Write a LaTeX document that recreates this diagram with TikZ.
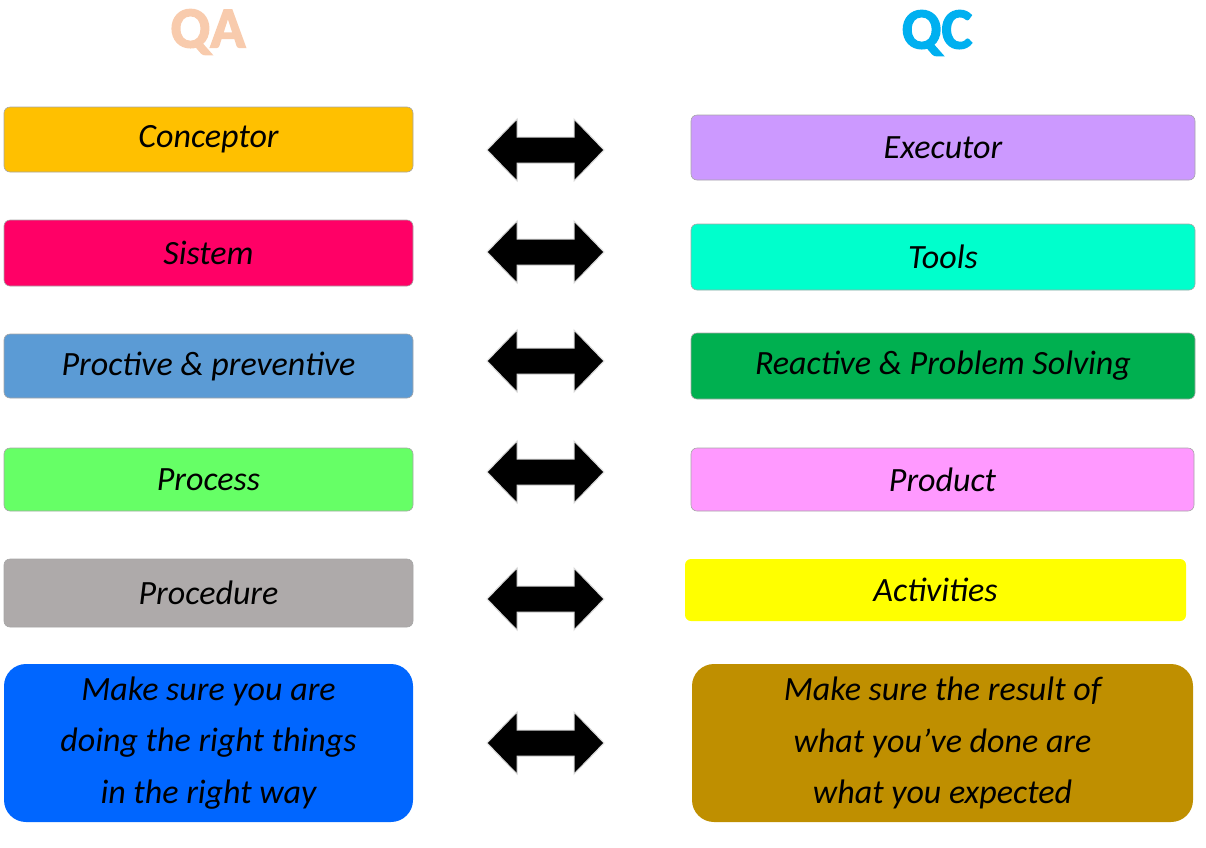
\documentclass[tikz,border=0pt]{standalone}
\usepackage{fontspec}
\setmainfont{Carlito}
\usetikzlibrary{positioning}
\definecolor{c1}{HTML}{FFC000}\definecolor{c2}{HTML}{FF0066}\definecolor{c3}{HTML}{5B9BD5}
\definecolor{c4}{HTML}{66FF66}\definecolor{c5}{HTML}{AEAAAA}\definecolor{c6}{HTML}{0066FF}
\definecolor{d1}{HTML}{CC99FF}\definecolor{d2}{HTML}{00FFCC}\definecolor{d3}{HTML}{00B050}
\definecolor{d4}{HTML}{FF99FF}\definecolor{d5}{HTML}{FFFF00}\definecolor{d6}{HTML}{BF8F00}
\definecolor{qa}{HTML}{F8CBAD}\definecolor{qc}{HTML}{00B0F0}
\tikzset{
 box/.style={rounded corners=6pt,draw=black!35,line width=0.6pt,font=\fontsize{34}{40}\selectfont\itshape,align=center,inner sep=0pt},
 bigbox/.style={box,rounded corners=22pt,draw=none},
 dbl/.style={fill=black,draw=black!15,line width=1pt}
}
\newcommand{\boxat}[6]{\node[box,fill=#5,minimum width=#3-#1,minimum height=#4-#2] (#6) at ({(#1+#3)/2},{(#2+#4)/2}) {};}
\newcommand{\darr}[2]{\node[inner sep=0pt,minimum size=0pt] (#2) at (545,#1) {};
 \draw[dbl] ([xshift=-58pt]#2.center) -- ++(30,-31) -- ++(0,18) -- ++(57,0) -- ++(0,-18) -- ++(30,31) -- ++(-30,31) -- ++(0,-18) -- ++(-57,0) -- ++(0,18) -- cycle;}
\begin{document}
\begin{tikzpicture}[x=1pt,y=-1pt]
\useasboundingbox (0,0) rectangle (1206,847);
\node[font=\fontsize{58}{60}\selectfont\bfseries] (qa) at (208,32) {\special{pdf:literal direct 2 Tr 1.5 w 0.93 0.49 0.19 RG}\color{qa}QA\special{pdf:literal direct 0 Tr}};
\node[font=\fontsize{58}{60}\selectfont\bfseries] (qc) at (937,33) {\special{pdf:literal direct 2 Tr 1.5 w 0.1 0.45 0.7 RG}\color{qc}QC\special{pdf:literal direct 0 Tr}};
\boxat{4}{107}{413}{172}{c1}{l1}\node[font=\fontsize{34}{40}\selectfont\itshape] at (l1) {Conceptor};
\boxat{4}{220}{413}{286}{c2}{l2}\node[font=\fontsize{34}{40}\selectfont\itshape] at (l2) {Sistem};
\boxat{4}{334}{413}{398}{c3}{l3}\node[font=\fontsize{34}{40}\selectfont\itshape] at (l3) {Proctive \& preventive};
\boxat{4}{448}{413}{511}{c4}{l4}\node[font=\fontsize{34}{40}\selectfont\itshape] at (l4) {Process};
\boxat{4}{559}{413}{627}{c5}{l5}\node[font=\fontsize{34}{40}\selectfont\itshape] at (l5) {Procedure};
\node[bigbox,fill=c6,minimum width=409,minimum height=158] (l6) at (208.5,743) {};
\node[font=\fontsize{34}{51.5}\selectfont\itshape,align=center] at (l6) {Make sure you are\\doing the right things\\in the right way};
\boxat{691}{115}{1195}{180}{d1}{r1}\node[font=\fontsize{34}{40}\selectfont\itshape] at (r1) {Executor};
\boxat{691}{224}{1195}{290}{d2}{r2}\node[font=\fontsize{34}{40}\selectfont\itshape] at (r2) {Tools};
\boxat{691}{333}{1195}{399}{d3}{r3}\node[font=\fontsize{34}{40}\selectfont\itshape] at (r3) {Reactive \& Problem Solving};
\boxat{691}{448}{1194}{511}{d4}{r4}\node[font=\fontsize{34}{40}\selectfont\itshape] at (r4) {Product};
\node[box,draw=none,fill=d5,minimum width=501,minimum height=62] (r5) at (935.5,590) {Activities};
\node[bigbox,fill=d6,minimum width=501,minimum height=158] (r6) at (942.5,743) {};
\node[font=\fontsize{34}{51.5}\selectfont\itshape,align=center] at (r6) {Make sure the result of\\what you’ve done are\\what you expected};
\darr{150}{a1}\darr{252}{a2}\darr{361}{a3}\darr{472}{a4}\darr{599}{a5}\darr{743}{a6}
\end{tikzpicture}
\end{document}
